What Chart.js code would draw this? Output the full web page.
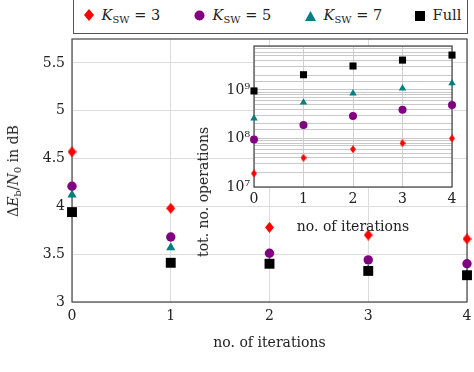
<!DOCTYPE html>
<html lang="en">
<head>
<meta charset="UTF-8">
<title>Iterations vs. SNR gap and operations</title>
<script src="https://cdn.jsdelivr.net/npm/chart.js@4.4.1/dist/chart.umd.min.js"></script>
<style>
    body {
        margin: 0;
        background: #fff;
        font-family: 'DejaVu Serif', serif;
        color: #222;
    }
    #wrap {
        position: relative;
        width: 474px;
        height: 372px;
        overflow: hidden;
    }
    #mainChart, #insetWrap {
        position: absolute;
    }
    #mainChart { left: 0; top: 0; }
    #insetWrap { left: 190px; top: 40px; width: 270px; height: 200px; }
    .legend {
        position: absolute;
        left: 73px;
        top: -1px;
        width: 393px;
        height: 33px;
        border: 1.3px solid #555;
        background: #fff;
    }
    .item {
        position: absolute;
        top: 6px;
        font-size: 14.5px;
        white-space: nowrap;
        line-height: 18px;
    }
    .item svg { vertical-align: -1px; margin-right: 3px; }
    sub { font-size: 10px; vertical-align: -3px; line-height: 0; }
    .ytitle {
        position: absolute;
        transform: translate(-50%, -50%) rotate(-90deg);
        white-space: nowrap;
        font-size: 14px;
    }
</style>
</head>
<body>
<div id="wrap">
    <canvas id="mainChart" width="474" height="372"></canvas>
    <div id="insetWrap"><canvas id="insetChart" width="270" height="200"></canvas></div>

    <div class="legend">
        <span class="item" style="left:10px"><svg width="10" height="12"><polygon points="5,0 10,6 5,12 0,6" fill="#ff0000"/></svg> <i>K</i><sub>SW</sub> = 3</span>
        <span class="item" style="left:120px"><svg width="11" height="11"><circle cx="5.5" cy="5.5" r="5" fill="#800080"/></svg> <i>K</i><sub>SW</sub> = 5</span>
        <span class="item" style="left:231px"><svg width="11" height="10"><polygon points="5.5,0 11,10 0,10" fill="#008080"/></svg> <i>K</i><sub>SW</sub> = 7</span>
        <span class="item" style="left:341px"><svg width="10" height="10"><rect width="10" height="10" fill="#000"/></svg> Full</span>
    </div>

    <div class="ytitle" style="left:13px; top:171px">Δ<i>E</i><sub>b</sub>/<i>N</i><sub>0</sub> in dB</div>
    <div class="ytitle" style="left:203px; top:192px">tot. no. operations</div>
</div>

<script>
    // iterations on the x axis (both plots)
    const iterations = [0, 1, 2, 3, 4];

    // main plot: SNR gap in dB
    const gapK3 = [4.57, 3.98, 3.78, 3.70, 3.66];
    const gapK5 = [4.21, 3.68, 3.51, 3.44, 3.40];
    const gapK7 = [4.12, 3.57, 3.41, 3.34, 3.29];
    const gapFull = [3.94, 3.41, 3.40, 3.325, 3.28];
    const gapTicks = [3, 3.5, 4, 4.5, 5, 5.5];
    const gapTickLabels = ['3', '3.5', '4', '4.5', '5', '5.5'];

    // inset: total number of operations
    const opsK3 = [1.9e7, 4.0e7, 6.0e7, 8.0e7, 1.0e8];
    const opsK5 = [9.5e7, 1.9e8, 2.9e8, 3.9e8, 4.9e8];
    const opsK7 = [2.6e8, 5.5e8, 8.5e8, 1.08e9, 1.37e9];
    const opsFull = [9.5e8, 2.05e9, 3.1e9, 4.1e9, 5.2e9];
    const opsTicks = [1e7, 1e8, 1e9];
    const opsTickLabels = ['10⁷', '10⁸', '10⁹'];

    const RED = '#ff0000', PURPLE = '#800080', TEAL = '#008080', BLACK = '#000000';
    const FONT = "'DejaVu Serif', serif";

    Chart.defaults.font.family = FONT;
    Chart.defaults.font.size = 13.5;
    Chart.defaults.color = '#222';

    function diamond(w, h, color) {
        const c = document.createElement('canvas');
        c.width = w; c.height = h;
        const g = c.getContext('2d');
        g.fillStyle = color;
        g.beginPath();
        g.moveTo(w / 2, 0); g.lineTo(w, h / 2); g.lineTo(w / 2, h); g.lineTo(0, h / 2);
        g.closePath();
        g.fill();
        return c;
    }

    const pts = ys => iterations.map((x, i) => ({x: x, y: ys[i]}));

    // no extra room for the outer tick labels, the layout padding decides
    const noPad = s => {
        s.paddingLeft = 0; s.paddingRight = 0;
        s.paddingTop = 0; s.paddingBottom = 0;
    };

    // white plot area + box around it
    const framePlugin = {
        id: 'frame',
        beforeDraw(chart, args, opts) {
            if (!opts.fill) return;
            const a = chart.chartArea;
            chart.ctx.save();
            chart.ctx.fillStyle = opts.fill;
            chart.ctx.fillRect(a.left, a.top, a.width, a.height);
            chart.ctx.restore();
        },
        beforeDatasetsDraw(chart, args, opts) {
            const {ctx, chartArea: a} = chart;
            ctx.save();
            ctx.strokeStyle = opts.color || '#444';
            ctx.lineWidth = 1.2;
            ctx.strokeRect(a.left, a.top, a.width, a.height);
            ctx.restore();
        }
    };

    function series(data, style, radius, color, order) {
        return {
            data: data,
            pointStyle: style,
            pointRadius: radius,
            pointHoverRadius: radius,
            backgroundColor: color,
            borderColor: color,
            borderWidth: 0,
            order: order,
            clip: false
        };
    }

    new Chart(document.getElementById('mainChart'), {
        type: 'scatter',
        data: {
            datasets: [
                series(pts(gapK3), diamond(9, 11, RED), 5, RED, 3),
                series(pts(gapK5), 'circle', 4.7, PURPLE, 2),
                series(pts(gapK7), 'triangle', 5.3, TEAL, 1),
                series(pts(gapFull), 'rect', 7, BLACK, 0)
            ]
        },
        options: {
            responsive: false,
            animation: false,
            layout: {padding: {left: 0, top: 39, right: 6, bottom: 0}},
            plugins: {
                legend: {display: false},
                frame: {color: '#444'}
            },
            scales: {
                x: {
                    type: 'linear',
                    min: 0,
                    max: 4,
                    afterBuildTicks: s => { s.ticks = iterations.map(v => ({value: v})); },
                    afterFit: s => { s.height = 70; noPad(s); },
                    grid: {color: '#dcdcdc', drawTicks: false},
                    border: {display: false},
                    ticks: {padding: 6, font: {size: 14}},
                    title: {display: true, text: 'no. of iterations', font: {size: 14}, padding: {top: 0, bottom: 20}}
                },
                y: {
                    min: 3,
                    max: 5.75,
                    afterBuildTicks: s => { s.ticks = gapTicks.map(v => ({value: v})); },
                    afterFit: s => { s.width = 72; noPad(s); },
                    grid: {color: '#dcdcdc', drawTicks: false},
                    border: {display: false},
                    ticks: {
                        padding: 7,
                        font: {size: 14},
                        callback: v => gapTickLabels[gapTicks.indexOf(v)]
                    }
                }
            }
        },
        plugins: [framePlugin]
    });

    new Chart(document.getElementById('insetChart'), {
        type: 'scatter',
        data: {
            datasets: [
                series(pts(opsK3), diamond(6, 8, RED), 4, RED, 3),
                series(pts(opsK5), 'circle', 4, PURPLE, 2),
                series(pts(opsK7), 'triangle', 4.3, TEAL, 1),
                series(pts(opsFull), 'rect', 5, BLACK, 0)
            ]
        },
        options: {
            responsive: false,
            animation: false,
            layout: {padding: {left: 0, top: 6, right: 8, bottom: 0}},
            plugins: {
                legend: {display: false},
                frame: {color: '#444', fill: '#ffffff'}
            },
            scales: {
                x: {
                    type: 'linear',
                    min: 0,
                    max: 4,
                    afterBuildTicks: s => { s.ticks = iterations.map(v => ({value: v})); },
                    afterFit: s => { s.height = 53; noPad(s); },
                    grid: {color: '#cfcfcf', drawTicks: false},
                    border: {display: false},
                    ticks: {padding: 4, font: {size: 14}},
                    title: {display: true, text: 'no. of iterations', font: {size: 14}, padding: {top: 0, bottom: 4}}
                },
                y: {
                    type: 'logarithmic',
                    min: 1e7,
                    max: 8e9,
                    afterFit: s => { s.width = 64; noPad(s); },
                    grid: {color: '#c8c8c8', drawTicks: false},
                    border: {display: false},
                    ticks: {
                        padding: 4,
                        autoSkip: false,
                        font: {size: 14},
                        callback: v => {
                            const i = opsTicks.indexOf(v);
                            return i >= 0 ? opsTickLabels[i] : '';
                        }
                    }
                }
            }
        },
        plugins: [framePlugin]
    });
</script>
</body>
</html>
